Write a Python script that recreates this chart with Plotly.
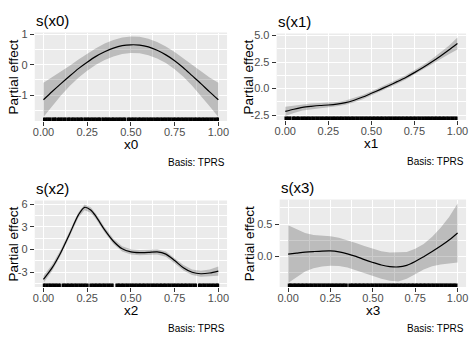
import plotly.graph_objects as go

# ---------------- data ----------------
grid_x = [0.0, 0.05, 0.1, 0.15, 0.2, 0.25, 0.3, 0.35, 0.4, 0.45, 0.5,
          0.55, 0.6, 0.65, 0.7, 0.75, 0.8, 0.85, 0.9, 0.95, 1.0]

fit_x0 = [-1.15, -0.88, -0.62, -0.37, -0.13, 0.08, 0.27, 0.42, 0.54, 0.62, 0.65,
          0.64, 0.58, 0.47, 0.32, 0.13, -0.10, -0.36, -0.62, -0.89, -1.15]
ci_x0 = [0.56, 0.47, 0.39, 0.33, 0.30, 0.28, 0.27, 0.27, 0.27, 0.27, 0.27,
         0.27, 0.27, 0.27, 0.27, 0.28, 0.30, 0.33, 0.39, 0.47, 0.56]

fit_x1 = [-2.15, -1.95, -1.78, -1.68, -1.60, -1.55, -1.47, -1.33, -1.10, -0.80, -0.45,
          -0.10, 0.27, 0.65, 1.05, 1.50, 1.98, 2.50, 3.05, 3.63, 4.25]
ci_x1 = [0.44, 0.36, 0.30, 0.26, 0.24, 0.22, 0.21, 0.20, 0.20, 0.20, 0.20,
         0.20, 0.20, 0.20, 0.20, 0.21, 0.23, 0.26, 0.31, 0.40, 0.57]

grid_x2 = [0.0, 0.05, 0.1, 0.15, 0.2, 0.235, 0.27, 0.3, 0.35, 0.4, 0.45,
           0.5, 0.55, 0.6, 0.65, 0.7, 0.75, 0.8, 0.85, 0.9, 0.95, 1.0]
fit_x2 = [-3.95, -2.40, -0.35, 2.10, 4.60, 5.60, 5.25, 4.40, 2.60, 1.10, 0.10,
          -0.30, -0.40, -0.38, -0.30, -0.60, -1.45, -2.40, -3.00, -3.20, -3.10, -2.85]
ci_x2 = [0.48, 0.42, 0.38, 0.36, 0.36, 0.38, 0.37, 0.36, 0.35, 0.35, 0.35,
         0.35, 0.35, 0.35, 0.35, 0.35, 0.35, 0.36, 0.37, 0.40, 0.46, 0.62]

fit_x3 = [0.03, 0.045, 0.06, 0.07, 0.078, 0.08, 0.065, 0.035, -0.005, -0.055, -0.10,
          -0.14, -0.165, -0.17, -0.145, -0.085, -0.01, 0.07, 0.155, 0.25, 0.36]
ci_x3 = [0.45, 0.37, 0.30, 0.26, 0.24, 0.23, 0.22, 0.215, 0.21, 0.21, 0.21,
         0.215, 0.22, 0.225, 0.21, 0.20, 0.20, 0.23, 0.285, 0.36, 0.46]

rug_x0 = [0.003, 0.012, 0.019, 0.027, 0.034, 0.041, 0.052, 0.058, 0.066, 0.071, 0.083, 0.09,
          0.098, 0.104, 0.113, 0.121, 0.127, 0.138, 0.145, 0.151, 0.162, 0.168, 0.176, 0.184,
          0.193, 0.199, 0.208, 0.216, 0.221, 0.233, 0.24, 0.247, 0.255, 0.262, 0.271, 0.279,
          0.286, 0.294, 0.302, 0.311, 0.318, 0.324, 0.336, 0.342, 0.351, 0.358, 0.366, 0.373,
          0.381, 0.392, 0.398, 0.405, 0.414, 0.422, 0.43, 0.437, 0.445, 0.453, 0.461, 0.468,
          0.482, 0.49, 0.497, 0.506, 0.513, 0.521, 0.528, 0.537, 0.546, 0.552, 0.561, 0.569,
          0.577, 0.584, 0.593, 0.6, 0.609, 0.617, 0.624, 0.633, 0.641, 0.649, 0.656, 0.664,
          0.673, 0.68, 0.689, 0.697, 0.704, 0.713, 0.72, 0.728, 0.737, 0.745, 0.752, 0.761,
          0.769, 0.776, 0.785, 0.793, 0.8, 0.809, 0.817, 0.824, 0.833, 0.841, 0.848, 0.857,
          0.865, 0.872, 0.881, 0.889, 0.896, 0.905, 0.913, 0.92, 0.929, 0.937, 0.944, 0.953,
          0.961, 0.968, 0.977, 0.985, 0.993, 0.998]
rug_x1 = [0.001, 0.009, 0.016, 0.025, 0.031, 0.044, 0.05, 0.057, 0.068, 0.074, 0.081, 0.092,
          0.1, 0.107, 0.115, 0.124, 0.131, 0.139, 0.147, 0.156, 0.163, 0.171, 0.18, 0.187,
          0.195, 0.204, 0.211, 0.219, 0.228, 0.236, 0.243, 0.251, 0.259, 0.268, 0.275, 0.283,
          0.291, 0.299, 0.307, 0.316, 0.323, 0.331, 0.339, 0.348, 0.355, 0.363, 0.371, 0.38,
          0.388, 0.395, 0.403, 0.412, 0.419, 0.427, 0.436, 0.443, 0.451, 0.46, 0.467, 0.475,
          0.484, 0.491, 0.499, 0.508, 0.515, 0.523, 0.532, 0.539, 0.547, 0.556, 0.563, 0.571,
          0.58, 0.587, 0.596, 0.604, 0.611, 0.619, 0.628, 0.635, 0.643, 0.652, 0.659, 0.667,
          0.676, 0.683, 0.691, 0.7, 0.707, 0.715, 0.724, 0.731, 0.739, 0.748, 0.755, 0.763,
          0.772, 0.779, 0.787, 0.796, 0.803, 0.812, 0.82, 0.827, 0.835, 0.844, 0.851, 0.859,
          0.868, 0.875, 0.883, 0.892, 0.899, 0.907, 0.916, 0.923, 0.931, 0.94, 0.947, 0.955,
          0.964, 0.971, 0.979, 0.988, 0.995]
rug_x2 = [0.002, 0.008, 0.017, 0.024, 0.033, 0.039, 0.047, 0.055, 0.063, 0.07, 0.078, 0.087,
          0.094, 0.109, 0.116, 0.124, 0.133, 0.14, 0.148, 0.157, 0.164, 0.172, 0.181, 0.188,
          0.196, 0.205, 0.212, 0.22, 0.229, 0.236, 0.244, 0.253, 0.268, 0.276, 0.284, 0.293,
          0.3, 0.308, 0.317, 0.324, 0.332, 0.341, 0.348, 0.356, 0.365, 0.372, 0.38, 0.389,
          0.396, 0.417, 0.425, 0.432, 0.44, 0.449, 0.456, 0.464, 0.473, 0.48, 0.488, 0.497,
          0.504, 0.512, 0.521, 0.528, 0.536, 0.545, 0.552, 0.56, 0.569, 0.576, 0.584, 0.593,
          0.6, 0.608, 0.617, 0.624, 0.632, 0.641, 0.648, 0.656, 0.665, 0.672, 0.68, 0.689,
          0.696, 0.704, 0.713, 0.72, 0.728, 0.737, 0.744, 0.752, 0.761, 0.768, 0.776, 0.785,
          0.792, 0.8, 0.809, 0.816, 0.824, 0.833, 0.84, 0.848, 0.857, 0.864, 0.872, 0.889,
          0.896, 0.904, 0.913, 0.92, 0.928, 0.937, 0.944, 0.952, 0.961, 0.968, 0.976, 0.985,
          0.992, 0.999]
rug_x3 = [0.004, 0.011, 0.018, 0.026, 0.035, 0.042, 0.049, 0.058, 0.065, 0.073, 0.082, 0.089,
          0.097, 0.106, 0.113, 0.121, 0.13, 0.137, 0.145, 0.154, 0.161, 0.169, 0.178, 0.185,
          0.193, 0.202, 0.209, 0.217, 0.226, 0.233, 0.241, 0.25, 0.257, 0.265, 0.274, 0.281,
          0.289, 0.298, 0.305, 0.313, 0.322, 0.329, 0.337, 0.346, 0.361, 0.37, 0.377, 0.385,
          0.394, 0.401, 0.409, 0.418, 0.425, 0.433, 0.442, 0.449, 0.457, 0.466, 0.473, 0.481,
          0.49, 0.497, 0.505, 0.514, 0.521, 0.529, 0.538, 0.545, 0.553, 0.562, 0.569, 0.577,
          0.586, 0.593, 0.601, 0.61, 0.617, 0.625, 0.634, 0.641, 0.649, 0.658, 0.665, 0.673,
          0.682, 0.689, 0.697, 0.706, 0.713, 0.721, 0.73, 0.737, 0.745, 0.754, 0.761, 0.769,
          0.778, 0.785, 0.793, 0.802, 0.809, 0.817, 0.826, 0.833, 0.841, 0.85, 0.857, 0.865,
          0.874, 0.881, 0.889, 0.898, 0.905, 0.913, 0.922, 0.929, 0.937, 0.946, 0.953, 0.961,
          0.97, 0.977, 0.985, 0.994]

x_tickvals = [0, 0.25, 0.5, 0.75, 1.0]
x_ticktext = ["0.00", "0.25", "0.50", "0.75", "1.00"]
x_minor = [0.125, 0.375, 0.625, 0.875]

y_ticks_x0 = [-1, 0, 1]
y_text_x0 = ["-1", "0", "1"]
y_minor_x0 = [-1.5, -0.5, 0.5]
y_ticks_x1 = [-2.5, 0, 2.5, 5.0]
y_text_x1 = ["-2.5", "0.0", "2.5", "5.0"]
y_minor_x1 = [-1.25, 1.25, 3.75]
y_ticks_x2 = [-3, 0, 3, 6]
y_text_x2 = ["-3", "0", "3", "6"]
y_minor_x2 = [-4.5, -1.5, 1.5, 4.5]
y_ticks_x3 = [0.0, 0.5]
y_text_x3 = ["0.0", "0.5"]
y_minor_x3 = [-0.25, 0.25, 0.75]

titles = ["s(x0)", "s(x1)", "s(x2)", "s(x3)"]
xlabels = ["x0", "x1", "x2", "x3"]
ylabel = "Partial effect"
caption = "Basis: TPRS"

# ---------------- figure ----------------
W, H = 474, 341
FONT = "Liberation Sans, Arial, sans-serif"

def fx(p):
    return p / W

def fy(p):
    return 1 - p / H

panels = [
    dict(x=grid_x, fit=fit_x0, ci=ci_x0, rug=rug_x0, yt=y_ticks_x0, ytt=y_text_x0, ym=y_minor_x0,
         box=(33, 227, 28, 118)),
    dict(x=grid_x, fit=fit_x1, ci=ci_x1, rug=rug_x1, yt=y_ticks_x1, ytt=y_text_x1, ym=y_minor_x1,
         box=(277, 468, 29, 117)),
    dict(x=grid_x2, fit=fit_x2, ci=ci_x2, rug=rug_x2, yt=y_ticks_x2, ytt=y_text_x2, ym=y_minor_x2,
         box=(33, 227, 199, 287)),
    dict(x=grid_x, fit=fit_x3, ci=ci_x3, rug=rug_x3, yt=y_ticks_x3, ytt=y_text_x3, ym=y_minor_x3,
         box=(280, 468, 198, 287)),
]

fig = go.Figure()
shapes = []
annotations = []
layout = {}

for i, p in enumerate(panels):
    n = i + 1
    xa = "x" if n == 1 else f"x{n}"
    ya = "y" if n == 1 else f"y{n}"
    upper = [f + c for f, c in zip(p["fit"], p["ci"])]
    lower = [f - c for f, c in zip(p["fit"], p["ci"])]
    lo, hi = min(lower), max(upper)
    span = hi - lo
    yr = [lo - 0.05 * span, hi + 0.05 * span]

    fig.add_trace(go.Scatter(
        x=p["x"] + p["x"][::-1], y=upper + lower[::-1],
        fill="toself", fillcolor="rgba(0,0,0,0.2)", line=dict(width=0),
        mode="lines", hoverinfo="skip", showlegend=False, xaxis=xa, yaxis=ya))
    fig.add_trace(go.Scatter(
        x=p["x"], y=p["fit"], mode="lines",
        line=dict(color="black", width=1.2, shape="spline", smoothing=0.8),
        showlegend=False, xaxis=xa, yaxis=ya))

    for r in p["rug"]:
        shapes.append(dict(type="line", xref=xa, yref=f"{ya} domain",
                           x0=r, x1=r, y0=0, y1=0.04,
                           line=dict(color="black", width=2)))

    l, r_, t, b = p["box"]
    axkey_x = "xaxis" if n == 1 else f"xaxis{n}"
    axkey_y = "yaxis" if n == 1 else f"yaxis{n}"
    layout[axkey_x] = dict(
        domain=[fx(l), fx(r_)], anchor=ya, range=[-0.05, 1.05],
        tickvals=x_tickvals, ticktext=x_ticktext,
        ticks="outside", ticklen=4, tickwidth=1, tickcolor="#333333",
        ticklabelstandoff=-3,
        tickfont=dict(family=FONT, size=11, color="#4D4D4D"),
        showgrid=True, gridcolor="white", gridwidth=1.1, zeroline=False, showline=False,
        minor=dict(tickvals=x_minor, showgrid=True, gridcolor="white", gridwidth=0.55, ticks=""),
    )
    layout[axkey_y] = dict(
        domain=[fy(b), fy(t)], anchor=xa, range=yr,
        tickvals=p["yt"], ticktext=p["ytt"],
        ticks="outside", ticklen=4, tickwidth=1, tickcolor="#333333",
        tickfont=dict(family=FONT, size=11, color="#4D4D4D"),
        showgrid=True, gridcolor="white", gridwidth=1.1, zeroline=False, showline=False,
        minor=dict(tickvals=p["ym"], showgrid=True, gridcolor="white", gridwidth=0.55, ticks=""),
    )

    # title
    annotations.append(dict(text=titles[i], x=fx(l - 1), y=fy(t - 12), xref="paper", yref="paper",
                            xanchor="left", yanchor="middle", showarrow=False,
                            font=dict(family=FONT, size=15, color="black")))
    # x label
    annotations.append(dict(text=xlabels[i], x=fx((l + r_) / 2), y=fy(b + 24), xref="paper",
                            yref="paper", xanchor="center", yanchor="middle", showarrow=False,
                            font=dict(family=FONT, size=13.5, color="black")))
    # y label
    annotations.append(dict(text=ylabel, x=fx((0 if l < 200 else 237) + 12), y=fy((t + b) / 2),
                            xref="paper", yref="paper", xanchor="center", yanchor="middle",
                            textangle=-90, showarrow=False,
                            font=dict(family=FONT, size=13.5, color="black")))
    # caption
    annotations.append(dict(text=caption, x=fx(r_), y=fy(b + 42), xref="paper", yref="paper",
                            xanchor="right", yanchor="middle", showarrow=False,
                            font=dict(family=FONT, size=10, color="black")))

fig.update_layout(
    width=W, height=H, margin=dict(l=0, r=0, t=0, b=0),
    paper_bgcolor="white", plot_bgcolor="#EBEBEB",
    shapes=shapes, annotations=annotations, showlegend=False,
    **layout,
)

fig.write_html("out.html")
